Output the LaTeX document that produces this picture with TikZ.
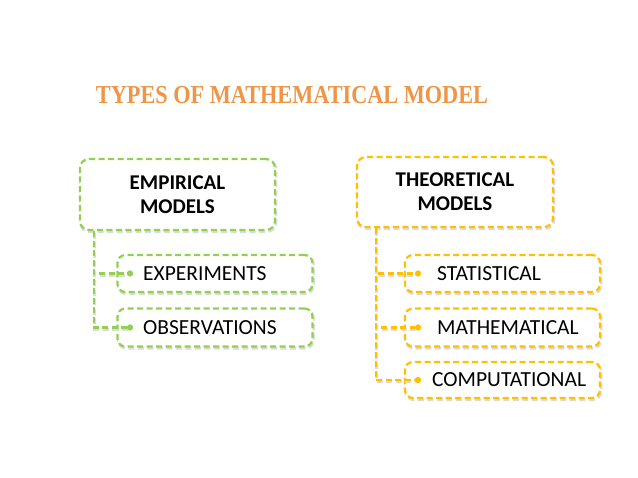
\documentclass[tikz,border=0pt]{standalone}
\usepackage{fontspec}
\setmainfont{Carlito}
\newfontfamily\titlefont{Liberation Serif}
\usetikzlibrary{calc}
\definecolor{grn}{HTML}{92D050}
\definecolor{ylw}{HTML}{FFC000}
\definecolor{orng}{HTML}{EE9547}
\begin{document}
\begin{tikzpicture}[x=1pt,y=-1pt,
  dsh/.style={dash pattern=on 6pt off 3.5pt, line width=2.2pt},
  shd/.style={preaction={draw=black!14, line width=3pt, dash pattern=on 6pt off 3.5pt, transform canvas={xshift=0.8pt,yshift=-1.6pt}}},
  bigbox/.style={fill=white, rounded corners=9pt, dsh, shd, inner sep=0pt, align=center,
    font=\fontsize{21}{24}\selectfont\bfseries},
  smallbox/.style={fill=white, rounded corners=8pt, dsh, shd, inner sep=0pt, minimum width=195pt},
  conn/.style={dsh, shd},
  dotg/.style={circle, fill=grn, inner sep=0pt, minimum size=6pt},
  doty/.style={circle, fill=ylw, inner sep=0pt, minimum size=6pt},
  itm/.style={anchor=west, inner sep=0pt, font=\fontsize{21.5}{24}\selectfont}
]
\useasboundingbox (0,0) rectangle (638,478);
\fill[white] (0,0) rectangle (638,478);

\node[text=orng, font=\titlefont\bfseries\fontsize{22.5}{26}\selectfont] (title) at (292,95) {\scalebox{0.99}[1.15]{TYPES OF MATHEMATICAL MODEL}};

% parent boxes
\node[bigbox, draw=grn, minimum width=195pt, minimum height=71pt] (emp) at (177.5,194.5) {EMPIRICAL\\MODELS};
\node[bigbox, draw=ylw, minimum width=196pt, minimum height=70pt] (theo) at (455,192) {THEORETICAL\\MODELS};

% child boxes
\node[smallbox, draw=grn, minimum height=37pt] (bexp) at (215,273.5) {};
\node[smallbox, draw=grn, minimum height=38pt] (bobs) at (215,327.5) {};
\node[smallbox, draw=ylw, minimum height=37pt] (bstat) at (502.5,273.5) {};
\node[smallbox, draw=ylw, minimum height=38pt] (bmath) at (502.5,327.5) {};
\node[smallbox, draw=ylw, minimum height=36pt] (bcomp) at (502.5,380) {};

% dots
\node[dotg] (dexp) at (130,273.5) {};
\node[dotg] (dobs) at (130,327.5) {};
\node[doty] (dstat) at (418,273.5) {};
\node[doty] (dmath) at (418,327.5) {};
\node[doty] (dcomp) at (418,380) {};

% connectors
\coordinate (gt) at ($(emp.south west)+(15,0)$);
\coordinate (yt) at ($(theo.south west)+(20,0)$);
\draw[conn, draw=grn] (gt) |- (dexp);
\draw[conn, draw=grn] (gt) |- (dobs);
\draw[conn, draw=ylw] (yt) |- (dstat);
\draw[conn, draw=ylw] (yt) |- (dmath);
\draw[conn, draw=ylw] (yt) |- (dcomp);
\node[dotg] at (dexp) {};
\node[dotg] at (dobs) {};
\node[doty] at (dstat) {};
\node[doty] at (dmath) {};
\node[doty] at (dcomp) {};

% texts
\node[itm] (texp) at (143,273.5) {EXPERIMENTS};
\node[itm] (tobs) at (143,327.5) {OBSERVATIONS};
\node[itm] (tstat) at (437,273.5) {STATISTICAL};
\node[itm] (tmath) at (437,327.5) {MATHEMATICAL};
\node[itm] (tcomp) at (432,380) {COMPUTATIONAL};
\end{tikzpicture}
\end{document}
